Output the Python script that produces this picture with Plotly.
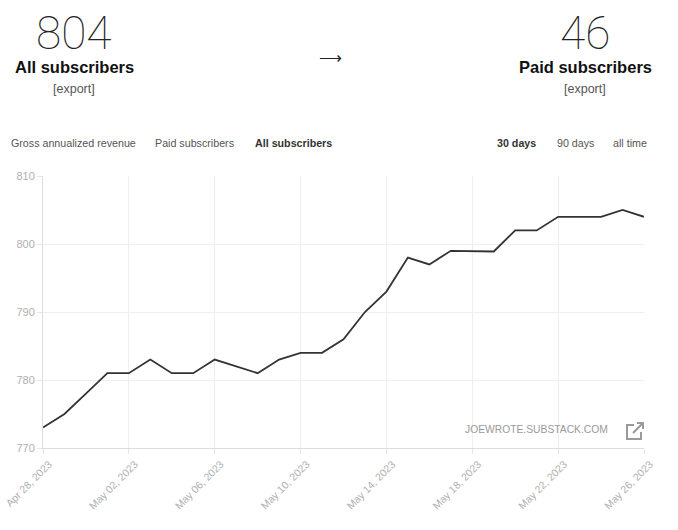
import plotly.graph_objects as go

dates = ["2023-04-28", "2023-04-29", "2023-04-30", "2023-05-01", "2023-05-02", "2023-05-03",
         "2023-05-04", "2023-05-05", "2023-05-06", "2023-05-07", "2023-05-08", "2023-05-09",
         "2023-05-10", "2023-05-11", "2023-05-12", "2023-05-13", "2023-05-14", "2023-05-15",
         "2023-05-16", "2023-05-17", "2023-05-18", "2023-05-19", "2023-05-20", "2023-05-21",
         "2023-05-22", "2023-05-23", "2023-05-24", "2023-05-25", "2023-05-26"]
subscribers = [773, 775, 778, 781, 781, 783, 781, 781, 783, 782, 781, 783, 784, 784, 786,
               790, 793, 798, 797, 799, 799, 798.9, 802, 802, 804, 804, 804, 805, 804]
tick_dates = ["2023-04-28", "2023-05-02", "2023-05-06", "2023-05-10", "2023-05-14",
              "2023-05-18", "2023-05-22", "2023-05-26"]
y_ticks = [770, 780, 790, 800, 810]

W, H = 678, 530
L, R, T, B = 43, 644, 176, 448


def px(x):
    return (x - L) / (R - L)


def py(y):
    return (B - y) / (B - T)


fig = go.Figure()
fig.add_trace(go.Scatter(x=dates, y=subscribers, mode="lines",
                         line=dict(color="#333333", width=1.8), hoverinfo="skip"))

FONT = "Liberation Sans, Arial, sans-serif"
ann = []


def text(x, y, s, size, color="#111", weight="normal", family=FONT, xanchor="center"):
    ann.append(dict(x=px(x), y=py(y), xref="paper", yref="paper", text=s, showarrow=False,
                    xanchor=xanchor, yanchor="middle",
                    font=dict(size=size, color=color, family=family, weight=weight)))


text(74, 33, "804", 46, "#222", 100, "Roboto, Inter, sans-serif")
text(74, 67, "<b>All subscribers</b>", 16.5, "#111")
text(74, 89, "[export]", 12.5, "#555")
text(330, 57, "⟶", 16, "#222")
text(585, 33, "46", 46, "#222", 100, "Roboto, Inter, sans-serif")
text(585, 67, "<b>Paid subscribers</b>", 16.5, "#111")
text(585, 89, "[export]", 12.5, "#555")

text(9, 143, "Gross annualized revenue", 10.7, "#555", xanchor="left")
text(153, 143, "Paid subscribers", 10.7, "#555", xanchor="left")
text(253, 143, "<b>All subscribers</b>", 10.7, "#333", xanchor="left")
text(495, 143, "<b>30 days</b>", 10.7, "#333", xanchor="left")
text(555, 143, "90 days", 10.7, "#555", xanchor="left")
text(611, 143, "all time", 10.7, "#555", xanchor="left")

text(610, 429, "JOEWROTE.SUBSTACK.COM", 10.3, "#9a9a9a", xanchor="right")

# external-link icon
icon_color = "#9a9a9a"
box = f"M {px(634)},{py(425)} L {px(627)},{py(425)} L {px(627)},{py(439)} L {px(641)},{py(439)} L {px(641)},{py(432)}"
arrow = f"M {px(633)},{py(433)} L {px(643)},{py(423)} M {px(637)},{py(423)} L {px(643)},{py(423)} L {px(643)},{py(429)}"
shapes = [
    dict(type="path", path=box, xref="paper", yref="paper", line=dict(color=icon_color, width=2)),
    dict(type="path", path=arrow, xref="paper", yref="paper", line=dict(color=icon_color, width=2)),
]

fig.update_layout(
    width=W, height=H,
    margin=dict(l=L, r=W - R, t=T, b=H - B, pad=0, autoexpand=False),
    paper_bgcolor="white", plot_bgcolor="white",
    showlegend=False,
    annotations=ann,
    shapes=shapes,
    font=dict(family=FONT),
    xaxis=dict(type="date", range=["2023-04-28", "2023-05-26"],
               tickvals=tick_dates, tickformat="%b %d, %Y", tickangle=-45,
               tickfont=dict(size=10.5, color="#b0b0b0"),
               ticklabeloverflow="allow", automargin=False,
               ticklabelshift=6,
               showgrid=True, gridcolor="#efefef", gridwidth=1,
               showline=True, linecolor="#dddddd", linewidth=1,
               ticks="outside", ticklen=5, tickcolor="#e5e5e5",
               zeroline=False, fixedrange=True),
    yaxis=dict(range=[770, 810], tickvals=y_ticks,
               tickfont=dict(size=11, color="#b0b0b0"),
               automargin=False,
               showgrid=True, gridcolor="#efefef", gridwidth=1,
               showline=True, linecolor="#dddddd", linewidth=1,
               ticks="outside", ticklen=5, tickcolor="#e5e5e5",
               zeroline=False, fixedrange=True),
)

fig.write_html("out.html", config={"displayModeBar": False})
